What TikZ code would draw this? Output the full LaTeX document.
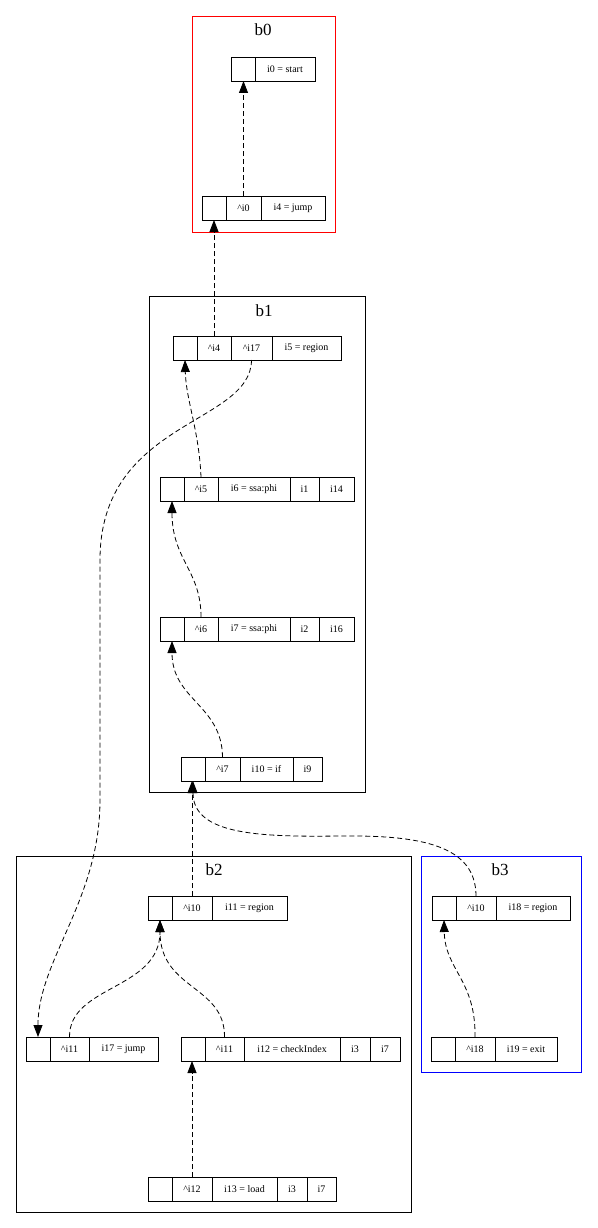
\documentclass[tikz,border=0pt]{standalone}
\usepackage{fontspec}
\setmainfont{Liberation Serif}
\usetikzlibrary{arrows.meta}
\tikzset{
  cell/.style={draw=black, line width=0.8pt, minimum height=24pt, inner sep=0pt, outer sep=0pt, font=\fontsize{10}{12}\selectfont},
  clus/.style={line width=0.9pt},
  clab/.style={font=\fontsize{17}{20}\selectfont, inner sep=0pt},
  dep/.style={draw=black, line width=0.8pt, dash pattern=on 5pt off 3pt, -{Triangle[length=12pt,width=9pt]}},
}
\newcommand\firstcell[5]{\node[cell,minimum width=#4pt,anchor=north west] (#1) at (#2,#3) {#5};}
\newcommand\nextcell[4]{\node[cell,minimum width=#3pt,anchor=west] (#1) at (#2.east) {#4};}
\begin{document}
\begin{tikzpicture}[x=1pt,y=-1pt]
\useasboundingbox (0,0) rectangle (597,1228);
% clusters
\draw[clus,draw=red] (192,16) rectangle (335,232);
\node[clab] (lb0) at (263,30) {b0};
\draw[clus,draw=black] (149,296) rectangle (365,792);
\node[clab] (lb1) at (264,311) {b1};
\draw[clus,draw=black] (16,856) rectangle (411,1212);
\node[clab] (lb2) at (214,870) {b2};
\draw[clus,draw=blue] (421,856) rectangle (581,1072);
\node[clab] (lb3) at (500,870) {b3};
% b0
\firstcell{i0a}{231}{57}{24}{}
\nextcell{i0b}{i0a}{60}{i0 = start}
\firstcell{i4a}{202}{196}{24}{}
\nextcell{i4b}{i4a}{35}{\^{}i0}
\nextcell{i4c}{i4b}{64}{i4 = jump}
% b1
\firstcell{i5a}{173}{336}{24}{}
\nextcell{i5b}{i5a}{34}{\^{}i4}
\nextcell{i5c}{i5b}{41}{\^{}i17}
\nextcell{i5d}{i5c}{69}{i5 = region}
\firstcell{i6a}{160}{477}{24}{}
\nextcell{i6b}{i6a}{34}{\^{}i5}
\nextcell{i6c}{i6b}{72}{i6 = ssa:phi}
\nextcell{i6d}{i6c}{29}{i1}
\nextcell{i6e}{i6d}{35}{i14}
\firstcell{i7a}{160}{617}{24}{}
\nextcell{i7b}{i7a}{34}{\^{}i6}
\nextcell{i7c}{i7b}{72}{i7 = ssa:phi}
\nextcell{i7d}{i7c}{29}{i2}
\nextcell{i7e}{i7d}{35}{i16}
\firstcell{i10a}{181}{757}{24}{}
\nextcell{i10b}{i10a}{35}{\^{}i7}
\nextcell{i10c}{i10b}{53}{i10 = if}
\nextcell{i10d}{i10c}{29}{i9}
% b2
\firstcell{i11a}{148}{896}{24}{}
\nextcell{i11b}{i11a}{40}{\^{}i10}
\nextcell{i11c}{i11b}{75}{i11 = region}
\firstcell{i17a}{26}{1037}{24}{}
\nextcell{i17b}{i17a}{39}{\^{}i11}
\nextcell{i17c}{i17b}{69}{i17 = jump}
\firstcell{i12a}{181}{1037}{24}{}
\nextcell{i12b}{i12a}{39}{\^{}i11}
\nextcell{i12c}{i12b}{96}{i12 = checkIndex}
\nextcell{i12d}{i12c}{30}{i3}
\nextcell{i12e}{i12d}{30}{i7}
\firstcell{i13a}{148}{1177}{24}{}
\nextcell{i13b}{i13a}{40}{\^{}i12}
\nextcell{i13c}{i13b}{65}{i13 = load}
\nextcell{i13d}{i13c}{30}{i3}
\nextcell{i13e}{i13d}{29}{i7}
% b3
\firstcell{i18a}{432}{896}{24}{}
\nextcell{i18b}{i18a}{40}{\^{}i10}
\nextcell{i18c}{i18b}{74}{i18 = region}
\firstcell{i19a}{431}{1037}{24}{}
\nextcell{i19b}{i19a}{40}{\^{}i18}
\nextcell{i19c}{i19b}{62}{i19 = exit}
% edges
\draw[dep] (i4b.north) -- (i0a.south -| i4b.north);
\draw[dep] (i5b.north) -- (i4a.south -| i5b.north);
\draw[dep] (i6b.north) .. controls (199,430) and (186,400) .. (i5a.south);
\draw[dep] (i7b.north) .. controls (201,570) and (172,560) .. (i6a.south);
\draw[dep] (i10b.north) .. controls (222,705) and (172,700) .. (i7a.south);
\draw[dep] (i5c.south) .. controls (251,425) and (100,420) .. (100,560) -- (100,800) .. controls (100,900) and (38,960) .. (i17a.north);
\draw[dep] (i11b.north) -- (i10a.south -| i11b.north);
\draw[dep] (i17b.north) .. controls (69,985) and (160,990) .. (i11a.south);
\draw[dep] (i12b.north) .. controls (225,985) and (160,990) .. (i11a.south);
\draw[dep] (i13b.north) -- (i12a.south -| i13b.north);
\draw[dep] (i19b.north) .. controls (476,980) and (445,970) .. (i18a.south);
\draw[dep] (i18b.north) .. controls (476,845) and (420,835) .. (340,836) .. controls (260,837) and (193,835) .. (i10a.south);
\end{tikzpicture}
\end{document}
